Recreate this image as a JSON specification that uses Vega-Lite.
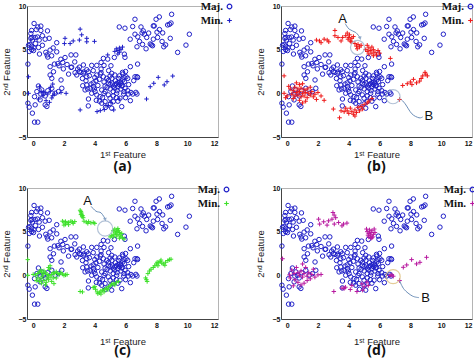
{
"$schema":"https://vega.github.io/schema/vega-lite/v6.json",
"padding":{"left":0,"top":0,"right":0,"bottom":0},
"background":"white",
"config":{
 "view":{"stroke":"#b4b4b4"},
 "axis":{"labelFont":"Liberation Sans","labelFontSize":7,"labelFontWeight":"bold","labelColor":"#111","titleFont":"Liberation Sans","titleFontSize":9.5,"titleFontWeight":"normal","titleColor":"#222","domainColor":"#444","ticks":false,"grid":false,"labelPadding":2},
 "axisY":{"titlePadding":7,"labelPadding":1},
 "axisX":{"titlePadding":3},
 "title":{"font":"Open Sans","fontSize":14,"fontWeight":"bold","color":"#111"},
 "legend":{"labelFont":"Liberation Serif","labelFontSize":11,"labelFontWeight":"bold","labelColor":"#111","labelAlign":"right","labelOffset":-12,"symbolSize":22,"symbolStrokeWidth":1.2,"rowPadding":2,"padding":0}
},
"resolve":{"scale":{"color":"independent","shape":"independent"},"legend":{"color":"independent","shape":"independent"}},
"datasets":{"pts":[
{"x":0.06,"y":8.0,"c":"Maj."},{"x":0.3,"y":7.6,"c":"Maj."},{"x":0.5,"y":7.7,"c":"Maj."},{"x":-0.1,"y":7.2,"c":"Maj."},{"x":-0.15,"y":6.85,"c":"Maj."},{"x":0.93,"y":7.15,"c":"Maj."},{"x":0.5,"y":7.2,"c":"Maj."},{"x":0.13,"y":6.4,"c":"Maj."},{"x":0.28,"y":6.45,"c":"Maj."},{"x":-0.08,"y":6.4,"c":"Maj."},{"x":-0.15,"y":6.3,"c":"Maj."},{"x":0.39,"y":6.1,"c":"Maj."},{"x":0.78,"y":6.2,"c":"Maj."},{"x":1.04,"y":6.3,"c":"Maj."},{"x":1.53,"y":5.8,"c":"Maj."},{"x":-0.2,"y":5.6,"c":"Maj."},{"x":-0.3,"y":5.5,"c":"Maj."},{"x":-0.1,"y":5.4,"c":"Maj."},{"x":0.05,"y":5.2,"c":"Maj."},{"x":-0.1,"y":5.0,"c":"Maj."},{"x":-0.25,"y":4.8,"c":"Maj."},{"x":0.35,"y":5.25,"c":"Maj."},{"x":0.02,"y":4.9,"c":"Maj."},{"x":1.1,"y":4.95,"c":"Maj."},{"x":0.82,"y":4.7,"c":"Maj."},{"x":0.9,"y":4.4,"c":"Maj."},{"x":1.2,"y":4.3,"c":"Maj."},{"x":0.95,"y":4.15,"c":"Maj."},{"x":0.41,"y":4.5,"c":"Maj."},{"x":1.53,"y":4.75,"c":"Maj."},{"x":2.07,"y":4.1,"c":"Maj."},{"x":2.46,"y":4.4,"c":"Maj."},{"x":2.77,"y":4.4,"c":"Maj."},{"x":-0.34,"y":3.35,"c":"Maj."},{"x":1.1,"y":3.05,"c":"Maj."},{"x":1.6,"y":3.4,"c":"Maj."},{"x":1.68,"y":3.15,"c":"Maj."},{"x":1.96,"y":2.8,"c":"Maj."},{"x":2.5,"y":3.0,"c":"Maj."},{"x":3.26,"y":3.25,"c":"Maj."},{"x":3.8,"y":3.2,"c":"Maj."},{"x":4.13,"y":3.2,"c":"Maj."},{"x":4.56,"y":4.0,"c":"Maj."},{"x":4.6,"y":3.2,"c":"Maj."},{"x":3.48,"y":2.7,"c":"Maj."},{"x":3.0,"y":2.5,"c":"Maj."},{"x":3.3,"y":2.45,"c":"Maj."},{"x":1.38,"y":3.35,"c":"Maj."},{"x":1.92,"y":3.54,"c":"Maj."},{"x":2.46,"y":2.97,"c":"Maj."},{"x":2.89,"y":2.78,"c":"Maj."},{"x":3.11,"y":2.4,"c":"Maj."},{"x":3.65,"y":2.02,"c":"Maj."},{"x":4.08,"y":1.44,"c":"Maj."},{"x":3.43,"y":1.44,"c":"Maj."},{"x":4.36,"y":2.21,"c":"Maj."},{"x":3.76,"y":1.06,"c":"Maj."},{"x":3.54,"y":0.49,"c":"Maj."},{"x":3.97,"y":0.49,"c":"Maj."},{"x":3.59,"y":-0.65,"c":"Maj."},{"x":3.22,"y":0.87,"c":"Maj."},{"x":4.41,"y":3.54,"c":"Maj."},{"x":4.84,"y":3.92,"c":"Maj."},{"x":5.27,"y":4.11,"c":"Maj."},{"x":5.05,"y":3.16,"c":"Maj."},{"x":4.41,"y":2.78,"c":"Maj."},
{"x":1.32,"y":2.47,"c":"Maj."},{"x":1.1,"y":2.1,"c":"Maj."},{"x":1.21,"y":1.72,"c":"Maj."},{"x":1.81,"y":1.53,"c":"Maj."},{"x":2.72,"y":2.36,"c":"Maj."},{"x":2.83,"y":2.1,"c":"Maj."},{"x":3.26,"y":2.29,"c":"Maj."},{"x":3.58,"y":2.47,"c":"Maj."},{"x":3.48,"y":1.9,"c":"Maj."},{"x":4.13,"y":2.1,"c":"Maj."},{"x":4.41,"y":2.36,"c":"Maj."},{"x":4.56,"y":1.9,"c":"Maj."},{"x":4.78,"y":1.72,"c":"Maj."},{"x":4.99,"y":1.98,"c":"Maj."},{"x":5.1,"y":2.29,"c":"Maj."},{"x":5.31,"y":0.96,"c":"Maj."},{"x":5.64,"y":1.33,"c":"Maj."},{"x":5.49,"y":0.76,"c":"Maj."},{"x":5.75,"y":0.84,"c":"Maj."},{"x":5.14,"y":1.07,"c":"Maj."},{"x":4.88,"y":1.15,"c":"Maj."},{"x":4.67,"y":0.84,"c":"Maj."},{"x":3.48,"y":0.96,"c":"Maj."},{"x":3.7,"y":0.58,"c":"Maj."},{"x":3.91,"y":0.76,"c":"Maj."},{"x":3.37,"y":0.39,"c":"Maj."},{"x":4.02,"y":0.2,"c":"Maj."},{"x":3.8,"y":0.01,"c":"Maj."},{"x":4.13,"y":-0.18,"c":"Maj."},{"x":4.34,"y":-0.38,"c":"Maj."},{"x":4.45,"y":0.39,"c":"Maj."},{"x":4.67,"y":0.2,"c":"Maj."},{"x":4.88,"y":-0.18,"c":"Maj."},{"x":4.99,"y":-0.56,"c":"Maj."},{"x":5.2,"y":-0.95,"c":"Maj."},{"x":4.67,"y":-0.95,"c":"Maj."},{"x":4.45,"y":-1.13,"c":"Maj."},{"x":5.42,"y":0.01,"c":"Maj."},{"x":5.64,"y":-0.56,"c":"Maj."},{"x":5.1,"y":-1.7,"c":"Maj."},{"x":5.75,"y":-1.52,"c":"Maj."},{"x":3.58,"y":-1.44,"c":"Maj."},
{"x":0.34,"y":0.84,"c":"Maj."},{"x":0.56,"y":0.39,"c":"Maj."},{"x":0.67,"y":0.01,"c":"Maj."},{"x":0.78,"y":-0.3,"c":"Maj."},{"x":0.24,"y":0.2,"c":"Maj."},{"x":0.09,"y":-0.38,"c":"Maj."},{"x":0.45,"y":-0.75,"c":"Maj."},{"x":0.78,"y":-1.32,"c":"Maj."},{"x":0.89,"y":-1.5,"c":"Maj."},{"x":0.13,"y":-1.32,"c":"Maj."},{"x":1.21,"y":0.58,"c":"Maj."},{"x":1.43,"y":0.01,"c":"Maj."},{"x":1.64,"y":0.2,"c":"Maj."},{"x":1.86,"y":0.58,"c":"Maj."},{"x":-0.34,"y":-1.13,"c":"Maj."},{"x":-0.26,"y":-1.58,"c":"Maj."},{"x":-0.05,"y":-2.27,"c":"Maj."},{"x":0.09,"y":-3.3,"c":"Maj."},{"x":0.3,"y":-3.3,"c":"Maj."},
{"x":5.82,"y":2.21,"c":"Maj."},{"x":6.03,"y":1.9,"c":"Maj."},{"x":6.14,"y":1.72,"c":"Maj."},{"x":5.92,"y":1.33,"c":"Maj."},{"x":5.82,"y":1.53,"c":"Maj."},{"x":5.71,"y":1.15,"c":"Maj."},{"x":5.97,"y":0.58,"c":"Maj."},{"x":6.14,"y":0.3,"c":"Maj."},{"x":6.46,"y":-0.08,"c":"Maj."},{"x":6.74,"y":-0.08,"c":"Maj."},{"x":6.18,"y":-0.08,"c":"Maj."},{"x":5.88,"y":-0.08,"c":"Maj."},{"x":6.31,"y":-0.84,"c":"Maj."},{"x":6.61,"y":1.9,"c":"Maj."},{"x":6.74,"y":1.9,"c":"Maj."},{"x":6.53,"y":1.45,"c":"Maj."},{"x":6.35,"y":0.1,"c":"Maj."},{"x":6.67,"y":0.11,"c":"Maj."},{"x":6.78,"y":1.82,"c":"Maj."},{"x":6.78,"y":3.35,"c":"Maj."},{"x":5.92,"y":4.49,"c":"Maj."},{"x":5.96,"y":4.12,"c":"Maj."},{"x":6.31,"y":3.05,"c":"Maj."},{"x":6.0,"y":2.5,"c":"Maj."},{"x":5.8,"y":2.4,"c":"Maj."},
{"x":6.61,"y":8.48,"c":"Maj."},{"x":7.98,"y":8.48,"c":"Maj."},{"x":8.19,"y":8.75,"c":"Maj."},{"x":8.99,"y":9.05,"c":"Maj."},{"x":6.46,"y":7.65,"c":"Maj."},{"x":5.96,"y":7.46,"c":"Maj."},{"x":5.59,"y":7.6,"c":"Maj."},{"x":7.8,"y":7.72,"c":"Maj."},{"x":8.85,"y":7.9,"c":"Maj."},{"x":8.95,"y":8.05,"c":"Maj."},{"x":7.15,"y":7.15,"c":"Maj."},{"x":7.07,"y":6.92,"c":"Maj."},{"x":7.22,"y":6.77,"c":"Maj."},{"x":7.37,"y":6.4,"c":"Maj."},{"x":6.61,"y":6.77,"c":"Maj."},{"x":6.79,"y":6.47,"c":"Maj."},{"x":7.8,"y":6.2,"c":"Maj."},{"x":8.04,"y":7.0,"c":"Maj."},{"x":8.41,"y":6.92,"c":"Maj."},{"x":8.08,"y":6.4,"c":"Maj."},{"x":10.14,"y":6.77,"c":"Maj."},{"x":6.9,"y":5.94,"c":"Maj."},{"x":6.74,"y":5.33,"c":"Maj."},{"x":7.33,"y":5.1,"c":"Maj."},{"x":7.68,"y":5.55,"c":"Maj."},{"x":7.6,"y":5.65,"c":"Maj."},{"x":7.75,"y":5.45,"c":"Maj."},{"x":8.37,"y":5.94,"c":"Maj."},{"x":8.48,"y":5.33,"c":"Maj."},{"x":8.6,"y":5.55,"c":"Maj."},{"x":9.92,"y":5.52,"c":"Maj."},{"x":9.38,"y":4.69,"c":"Maj."},{"x":7.86,"y":7.72,"c":"Maj."},{"x":8.73,"y":7.83,"c":"Maj."},
{"x":5.0,"y":1.0,"c":"Maj."},{"x":5.2,"y":0.8,"c":"Maj."},{"x":5.4,"y":1.1,"c":"Maj."},{"x":5.5,"y":1.2,"c":"Maj."},{"x":5.6,"y":1.0,"c":"Maj."},{"x":5.3,"y":0.6,"c":"Maj."},{"x":5.0,"y":0.5,"c":"Maj."},{"x":4.8,"y":0.7,"c":"Maj."},{"x":5.7,"y":0.5,"c":"Maj."},{"x":5.45,"y":0.3,"c":"Maj."},{"x":5.2,"y":0.2,"c":"Maj."},{"x":5.8,"y":0.9,"c":"Maj."},{"x":4.6,"y":1.3,"c":"Maj."},{"x":5.35,"y":1.45,"c":"Maj."},{"x":5.55,"y":1.7,"c":"Maj."},{"x":4.9,"y":1.5,"c":"Maj."},{"x":5.1,"y":1.7,"c":"Maj."},{"x":5.9,"y":1.8,"c":"Maj."},{"x":5.6,"y":2.0,"c":"Maj."},{"x":5.2,"y":-0.3,"c":"Maj."},{"x":4.5,"y":-0.5,"c":"Maj."},{"x":4.2,"y":0.9,"c":"Maj."},{"x":4.3,"y":1.6,"c":"Maj."},{"x":3.9,"y":1.2,"c":"Maj."},{"x":6.0,"y":-0.5,"c":"Maj."},{"x":5.5,"y":-0.9,"c":"Maj."},{"x":4.7,"y":-1.6,"c":"Maj."},{"x":4.1,"y":-0.8,"c":"Maj."},
{"x":0.2,"y":7.3,"c":"Maj."},{"x":0.6,"y":6.6,"c":"Maj."},{"x":-0.05,"y":6.1,"c":"Maj."},{"x":0.15,"y":5.7,"c":"Maj."},{"x":0.6,"y":5.5,"c":"Maj."},{"x":1.3,"y":5.2,"c":"Maj."},{"x":1.8,"y":3.9,"c":"Maj."},{"x":2.2,"y":3.3,"c":"Maj."},{"x":2.7,"y":3.6,"c":"Maj."},{"x":3.0,"y":3.0,"c":"Maj."},{"x":3.9,"y":2.6,"c":"Maj."},{"x":4.9,"y":2.6,"c":"Maj."},{"x":5.3,"y":2.1,"c":"Maj."},{"x":4.6,"y":0.0,"c":"Maj."},{"x":4.3,"y":-0.9,"c":"Maj."},{"x":5.0,"y":-1.2,"c":"Maj."},{"x":5.9,"y":0.2,"c":"Maj."},{"x":6.2,"y":1.0,"c":"Maj."},{"x":5.4,"y":-0.5,"c":"Maj."},{"x":4.0,"y":1.8,"c":"Maj."},{"x":3.2,"y":1.7,"c":"Maj."},{"x":2.3,"y":2.2,"c":"Maj."},{"x":0.5,"y":-0.1,"c":"Maj."},{"x":0.95,"y":0.3,"c":"Maj."},{"x":7.0,"y":7.6,"c":"Maj."},{"x":7.5,"y":6.9,"c":"Maj."},{"x":8.2,"y":7.3,"c":"Maj."},{"x":6.3,"y":6.2,"c":"Maj."},{"x":7.1,"y":5.6,"c":"Maj."},{"x":8.9,"y":6.3,"c":"Maj."},

{"x":3.05,"y":7.35,"c":"Min.","p":"a"},{"x":3.15,"y":6.7,"c":"Min.","p":"a"},{"x":3.48,"y":6.3,"c":"Min.","p":"a"},{"x":2.07,"y":6.3,"c":"Min.","p":"a"},{"x":2.03,"y":5.7,"c":"Min.","p":"a"},{"x":2.4,"y":5.7,"c":"Min.","p":"a"},{"x":2.6,"y":6.0,"c":"Min.","p":"a"},{"x":3.0,"y":6.1,"c":"Min.","p":"a"},{"x":3.48,"y":5.9,"c":"Min.","p":"a"},{"x":3.98,"y":5.95,"c":"Min.","p":"a"},{"x":4.84,"y":4.4,"c":"Min.","p":"a"},{"x":5.4,"y":5.1,"c":"Min.","p":"a"},{"x":5.5,"y":4.9,"c":"Min.","p":"a"},{"x":5.6,"y":4.7,"c":"Min.","p":"a"},{"x":5.7,"y":5.0,"c":"Min.","p":"a"},{"x":5.5,"y":4.5,"c":"Min.","p":"a"},{"x":5.8,"y":5.3,"c":"Min.","p":"a"},{"x":5.6,"y":5.2,"c":"Min.","p":"a"},{"x":5.3,"y":4.8,"c":"Min.","p":"a"},{"x":0.41,"y":0.76,"c":"Min.","p":"a"},{"x":0.52,"y":0.23,"c":"Min.","p":"a"},{"x":0.69,"y":0.11,"c":"Min.","p":"a"},{"x":0.95,"y":-0.08,"c":"Min.","p":"a"},{"x":1.12,"y":0.23,"c":"Min.","p":"a"},{"x":1.27,"y":-0.27,"c":"Min.","p":"a"},{"x":1.38,"y":-0.08,"c":"Min.","p":"a"},{"x":0.63,"y":-0.27,"c":"Min.","p":"a"},{"x":0.35,"y":-0.65,"c":"Min.","p":"a"},{"x":0.84,"y":-0.84,"c":"Min.","p":"a"},{"x":1.06,"y":-1.03,"c":"Min.","p":"a"},{"x":1.21,"y":-0.53,"c":"Min.","p":"a"},{"x":1.81,"y":0.11,"c":"Min.","p":"a"},{"x":2.14,"y":0.0,"c":"Min.","p":"a"},{"x":1.27,"y":1.06,"c":"Min.","p":"a"},{"x":1.12,"y":0.68,"c":"Min.","p":"a"},{"x":3.05,"y":-1.9,"c":"Min.","p":"a"},{"x":4.15,"y":-2.09,"c":"Min.","p":"a"},{"x":4.36,"y":-1.98,"c":"Min.","p":"a"},{"x":4.62,"y":-1.86,"c":"Min.","p":"a"},{"x":4.88,"y":-1.41,"c":"Min.","p":"a"},{"x":5.05,"y":-1.03,"c":"Min.","p":"a"},{"x":5.23,"y":-1.9,"c":"Min.","p":"a"},{"x":4.73,"y":-1.41,"c":"Min.","p":"a"},{"x":5.59,"y":-0.65,"c":"Min.","p":"a"},{"x":7.36,"y":-0.65,"c":"Min.","p":"a"},{"x":7.6,"y":0.76,"c":"Min.","p":"a"},{"x":7.83,"y":1.15,"c":"Min.","p":"a"},{"x":8.12,"y":1.83,"c":"Min.","p":"a"},{"x":8.51,"y":0.96,"c":"Min.","p":"a"},{"x":8.69,"y":1.33,"c":"Min.","p":"a"},{"x":9.06,"y":1.98,"c":"Min.","p":"a"},{"x":-0.3,"y":0.0,"c":"Min.","p":"a"},{"x":-0.3,"y":1.9,"c":"Min.","p":"a"},

{"x":1.9,"y":6.1,"c":"Min.","p":"b"},{"x":2.1,"y":6.0,"c":"Min.","p":"b"},{"x":2.4,"y":6.2,"c":"Min.","p":"b"},{"x":2.6,"y":6.1,"c":"Min.","p":"b"},{"x":2.7,"y":5.9,"c":"Min.","p":"b"},{"x":2.2,"y":5.8,"c":"Min.","p":"b"},{"x":3.1,"y":7.2,"c":"Min.","p":"b"},{"x":3.1,"y":6.6,"c":"Min.","p":"b"},{"x":3.3,"y":6.4,"c":"Min.","p":"b"},{"x":3.6,"y":6.4,"c":"Min.","p":"b"},{"x":3.8,"y":6.6,"c":"Min.","p":"b"},{"x":3.5,"y":6.0,"c":"Min.","p":"b"},{"x":4.0,"y":6.4,"c":"Min.","p":"b"},{"x":3.9,"y":6.9,"c":"Min.","p":"b"},{"x":3.95,"y":6.2,"c":"Min.","p":"b"},{"x":4.1,"y":6.0,"c":"Min.","p":"b"},{"x":4.2,"y":6.3,"c":"Min.","p":"b"},{"x":4.3,"y":6.5,"c":"Min.","p":"b"},{"x":4.05,"y":6.7,"c":"Min.","p":"b"},{"x":4.15,"y":5.9,"c":"Min.","p":"b"},{"x":4.4,"y":5.7,"c":"Min.","p":"b"},{"x":4.5,"y":5.4,"c":"Min.","p":"b"},{"x":4.6,"y":5.6,"c":"Min.","p":"b"},{"x":4.7,"y":5.3,"c":"Min.","p":"b"},{"x":4.55,"y":5.1,"c":"Min.","p":"b"},{"x":4.8,"y":5.5,"c":"Min.","p":"b"},
{"x":5.1,"y":5.0,"c":"Min.","p":"b"},{"x":5.2,"y":4.8,"c":"Min.","p":"b"},{"x":5.3,"y":5.2,"c":"Min.","p":"b"},{"x":5.4,"y":4.9,"c":"Min.","p":"b"},{"x":5.5,"y":4.6,"c":"Min.","p":"b"},{"x":5.6,"y":5.0,"c":"Min.","p":"b"},{"x":5.7,"y":4.7,"c":"Min.","p":"b"},{"x":5.5,"y":5.3,"c":"Min.","p":"b"},{"x":5.3,"y":4.5,"c":"Min.","p":"b"},{"x":5.8,"y":4.4,"c":"Min.","p":"b"},{"x":5.9,"y":4.9,"c":"Min.","p":"b"},{"x":5.2,"y":5.5,"c":"Min.","p":"b"},{"x":5.6,"y":4.3,"c":"Min.","p":"b"},{"x":6.0,"y":4.6,"c":"Min.","p":"b"},{"x":6.7,"y":4.0,"c":"Min.","p":"b"},
{"x":0.6,"y":1.2,"c":"Min.","p":"b"},{"x":0.8,"y":1.0,"c":"Min.","p":"b"},{"x":1.0,"y":1.1,"c":"Min.","p":"b"},{"x":0.5,"y":0.7,"c":"Min.","p":"b"},{"x":0.7,"y":0.5,"c":"Min.","p":"b"},{"x":0.9,"y":0.6,"c":"Min.","p":"b"},{"x":1.1,"y":0.4,"c":"Min.","p":"b"},{"x":1.3,"y":0.5,"c":"Min.","p":"b"},{"x":0.4,"y":0.3,"c":"Min.","p":"b"},{"x":0.6,"y":0.1,"c":"Min.","p":"b"},{"x":0.8,"y":0.2,"c":"Min.","p":"b"},{"x":1.0,"y":0.0,"c":"Min.","p":"b"},{"x":1.2,"y":0.1,"c":"Min.","p":"b"},{"x":1.4,"y":0.0,"c":"Min.","p":"b"},{"x":1.6,"y":0.2,"c":"Min.","p":"b"},{"x":0.3,"y":-0.1,"c":"Min.","p":"b"},{"x":0.5,"y":-0.3,"c":"Min.","p":"b"},{"x":0.7,"y":-0.2,"c":"Min.","p":"b"},{"x":0.9,"y":-0.4,"c":"Min.","p":"b"},{"x":1.1,"y":-0.3,"c":"Min.","p":"b"},{"x":1.3,"y":-0.5,"c":"Min.","p":"b"},{"x":1.5,"y":-0.2,"c":"Min.","p":"b"},{"x":1.7,"y":-0.4,"c":"Min.","p":"b"},{"x":0.4,"y":-0.6,"c":"Min.","p":"b"},{"x":0.8,"y":-0.8,"c":"Min.","p":"b"},{"x":1.2,"y":-0.9,"c":"Min.","p":"b"},{"x":1.8,"y":-0.1,"c":"Min.","p":"b"},{"x":2.0,"y":0.1,"c":"Min.","p":"b"},{"x":2.2,"y":-0.3,"c":"Min.","p":"b"},{"x":1.9,"y":-0.7,"c":"Min.","p":"b"},{"x":0.2,"y":0.5,"c":"Min.","p":"b"},{"x":1.0,"y":-1.1,"c":"Min.","p":"b"},{"x":2.4,"y":-0.8,"c":"Min.","p":"b"},{"x":0.0,"y":-0.3,"c":"Min.","p":"b"},{"x":1.5,"y":0.7,"c":"Min.","p":"b"},{"x":0.1,"y":0.8,"c":"Min.","p":"b"},{"x":-0.2,"y":2.0,"c":"Min.","p":"b"},{"x":-0.2,"y":0.0,"c":"Min.","p":"b"},{"x":-0.1,"y":-0.5,"c":"Min.","p":"b"},
{"x":3.0,"y":-1.8,"c":"Min.","p":"b"},{"x":3.4,"y":-2.8,"c":"Min.","p":"b"},{"x":3.5,"y":-2.0,"c":"Min.","p":"b"},{"x":3.7,"y":-2.1,"c":"Min.","p":"b"},{"x":3.9,"y":-2.0,"c":"Min.","p":"b"},{"x":4.0,"y":-2.3,"c":"Min.","p":"b"},{"x":4.1,"y":-1.7,"c":"Min.","p":"b"},{"x":4.2,"y":-2.1,"c":"Min.","p":"b"},{"x":4.3,"y":-2.4,"c":"Min.","p":"b"},{"x":4.4,"y":-1.9,"c":"Min.","p":"b"},{"x":4.5,"y":-2.2,"c":"Min.","p":"b"},{"x":4.6,"y":-1.6,"c":"Min.","p":"b"},{"x":4.7,"y":-2.0,"c":"Min.","p":"b"},{"x":4.8,"y":-1.5,"c":"Min.","p":"b"},{"x":4.9,"y":-1.8,"c":"Min.","p":"b"},{"x":5.0,"y":-1.3,"c":"Min.","p":"b"},{"x":5.2,"y":-1.1,"c":"Min.","p":"b"},{"x":5.3,"y":-0.9,"c":"Min.","p":"b"},{"x":4.4,"y":-2.6,"c":"Min.","p":"b"},{"x":3.8,"y":-1.7,"c":"Min.","p":"b"},{"x":5.5,"y":-0.6,"c":"Min.","p":"b"},
{"x":7.3,"y":-0.7,"c":"Min.","p":"b"},{"x":7.5,"y":0.9,"c":"Min.","p":"b"},{"x":7.8,"y":1.1,"c":"Min.","p":"b"},{"x":8.0,"y":1.3,"c":"Min.","p":"b"},{"x":8.2,"y":1.6,"c":"Min.","p":"b"},{"x":8.1,"y":1.0,"c":"Min.","p":"b"},{"x":8.4,"y":1.2,"c":"Min.","p":"b"},{"x":8.6,"y":1.4,"c":"Min.","p":"b"},{"x":8.7,"y":1.7,"c":"Min.","p":"b"},{"x":8.8,"y":2.0,"c":"Min.","p":"b"},{"x":9.0,"y":2.2,"c":"Min.","p":"b"},{"x":9.1,"y":2.0,"c":"Min.","p":"b"},{"x":8.95,"y":2.4,"c":"Min.","p":"b"},

{"x":1.9,"y":6.2,"c":"Min.","p":"c"},{"x":2.0,"y":6.1,"c":"Min.","p":"c"},{"x":2.1,"y":6.15,"c":"Min.","p":"c"},{"x":2.2,"y":6.0,"c":"Min.","p":"c"},{"x":2.3,"y":6.05,"c":"Min.","p":"c"},{"x":2.45,"y":6.2,"c":"Min.","p":"c"},{"x":2.55,"y":6.1,"c":"Min.","p":"c"},{"x":2.7,"y":6.15,"c":"Min.","p":"c"},{"x":2.6,"y":5.95,"c":"Min.","p":"c"},{"x":2.1,"y":5.85,"c":"Min.","p":"c"},{"x":2.0,"y":5.75,"c":"Min.","p":"c"},{"x":2.3,"y":5.8,"c":"Min.","p":"c"},
{"x":3.05,"y":7.45,"c":"Min.","p":"c"},{"x":3.1,"y":7.3,"c":"Min.","p":"c"},{"x":3.12,"y":7.15,"c":"Min.","p":"c"},{"x":3.15,"y":7.0,"c":"Min.","p":"c"},{"x":3.2,"y":6.85,"c":"Min.","p":"c"},{"x":3.18,"y":6.7,"c":"Min.","p":"c"},{"x":3.25,"y":6.6,"c":"Min.","p":"c"},{"x":3.1,"y":6.95,"c":"Min.","p":"c"},
{"x":3.3,"y":6.2,"c":"Min.","p":"c"},{"x":3.45,"y":6.1,"c":"Min.","p":"c"},{"x":3.6,"y":6.15,"c":"Min.","p":"c"},{"x":3.75,"y":6.0,"c":"Min.","p":"c"},{"x":3.9,"y":6.05,"c":"Min.","p":"c"},{"x":4.0,"y":5.95,"c":"Min.","p":"c"},{"x":3.55,"y":5.95,"c":"Min.","p":"c"},
{"x":5.0,"y":4.4,"c":"Min.","p":"c"},{"x":5.1,"y":4.55,"c":"Min.","p":"c"},{"x":5.2,"y":4.4,"c":"Min.","p":"c"},{"x":5.25,"y":4.7,"c":"Min.","p":"c"},{"x":5.35,"y":4.85,"c":"Min.","p":"c"},{"x":5.4,"y":5.0,"c":"Min.","p":"c"},{"x":5.45,"y":5.2,"c":"Min.","p":"c"},{"x":5.5,"y":5.35,"c":"Min.","p":"c"},{"x":5.55,"y":5.1,"c":"Min.","p":"c"},{"x":5.6,"y":4.9,"c":"Min.","p":"c"},{"x":5.5,"y":4.7,"c":"Min.","p":"c"},{"x":5.65,"y":4.6,"c":"Min.","p":"c"},{"x":5.7,"y":4.4,"c":"Min.","p":"c"},{"x":5.8,"y":4.3,"c":"Min.","p":"c"},{"x":5.6,"y":4.25,"c":"Min.","p":"c"},{"x":5.75,"y":4.8,"c":"Min.","p":"c"},{"x":5.4,"y":4.5,"c":"Min.","p":"c"},{"x":5.3,"y":5.3,"c":"Min.","p":"c"},{"x":5.9,"y":4.15,"c":"Min.","p":"c"},{"x":5.2,"y":5.1,"c":"Min.","p":"c"},
{"x":0.0,"y":0.1,"c":"Min.","p":"c"},{"x":0.15,"y":0.05,"c":"Min.","p":"c"},{"x":0.3,"y":0.2,"c":"Min.","p":"c"},{"x":0.4,"y":0.4,"c":"Min.","p":"c"},{"x":0.5,"y":0.6,"c":"Min.","p":"c"},{"x":0.55,"y":0.35,"c":"Min.","p":"c"},{"x":0.65,"y":0.15,"c":"Min.","p":"c"},{"x":0.7,"y":0.5,"c":"Min.","p":"c"},{"x":0.8,"y":0.3,"c":"Min.","p":"c"},{"x":0.9,"y":0.1,"c":"Min.","p":"c"},{"x":1.0,"y":0.0,"c":"Min.","p":"c"},{"x":1.1,"y":-0.2,"c":"Min.","p":"c"},{"x":1.2,"y":0.1,"c":"Min.","p":"c"},{"x":1.3,"y":0.3,"c":"Min.","p":"c"},{"x":1.4,"y":0.25,"c":"Min.","p":"c"},{"x":1.5,"y":0.4,"c":"Min.","p":"c"},{"x":1.6,"y":0.2,"c":"Min.","p":"c"},{"x":1.7,"y":0.1,"c":"Min.","p":"c"},{"x":1.8,"y":0.3,"c":"Min.","p":"c"},{"x":1.9,"y":0.15,"c":"Min.","p":"c"},{"x":2.0,"y":0.0,"c":"Min.","p":"c"},{"x":2.1,"y":0.05,"c":"Min.","p":"c"},{"x":2.2,"y":0.1,"c":"Min.","p":"c"},{"x":1.0,"y":0.9,"c":"Min.","p":"c"},{"x":1.1,"y":1.1,"c":"Min.","p":"c"},{"x":1.05,"y":0.7,"c":"Min.","p":"c"},{"x":0.6,"y":-0.1,"c":"Min.","p":"c"},{"x":0.5,"y":-0.4,"c":"Min.","p":"c"},{"x":0.4,"y":-0.7,"c":"Min.","p":"c"},{"x":0.55,"y":-0.9,"c":"Min.","p":"c"},{"x":0.7,"y":-0.6,"c":"Min.","p":"c"},{"x":0.85,"y":-0.8,"c":"Min.","p":"c"},{"x":1.0,"y":-0.5,"c":"Min.","p":"c"},{"x":1.2,"y":-0.7,"c":"Min.","p":"c"},{"x":1.35,"y":-0.95,"c":"Min.","p":"c"},{"x":0.3,"y":-0.3,"c":"Min.","p":"c"},{"x":0.2,"y":-0.6,"c":"Min.","p":"c"},{"x":0.8,"y":-1.1,"c":"Min.","p":"c"},{"x":1.5,"y":-0.3,"c":"Min.","p":"c"},{"x":1.3,"y":-0.3,"c":"Min.","p":"c"},{"x":0.9,"y":-0.3,"c":"Min.","p":"c"},{"x":-0.35,"y":1.8,"c":"Min.","p":"c"},{"x":-0.35,"y":0.0,"c":"Min.","p":"c"},
{"x":3.05,"y":-1.85,"c":"Min.","p":"c"},{"x":3.2,"y":-1.9,"c":"Min.","p":"c"},{"x":3.9,"y":-1.4,"c":"Min.","p":"c"},{"x":4.0,"y":-1.3,"c":"Min.","p":"c"},{"x":4.05,"y":-1.6,"c":"Min.","p":"c"},{"x":4.15,"y":-1.9,"c":"Min.","p":"c"},{"x":4.2,"y":-2.1,"c":"Min.","p":"c"},{"x":4.3,"y":-2.0,"c":"Min.","p":"c"},{"x":4.4,"y":-1.8,"c":"Min.","p":"c"},{"x":4.5,"y":-1.7,"c":"Min.","p":"c"},{"x":4.6,"y":-1.9,"c":"Min.","p":"c"},{"x":4.65,"y":-1.6,"c":"Min.","p":"c"},{"x":4.75,"y":-1.5,"c":"Min.","p":"c"},{"x":4.85,"y":-1.65,"c":"Min.","p":"c"},{"x":4.9,"y":-1.3,"c":"Min.","p":"c"},{"x":5.0,"y":-1.2,"c":"Min.","p":"c"},{"x":5.1,"y":-1.0,"c":"Min.","p":"c"},{"x":5.2,"y":-0.95,"c":"Min.","p":"c"},{"x":5.3,"y":-1.1,"c":"Min.","p":"c"},{"x":5.4,"y":-0.8,"c":"Min.","p":"c"},{"x":4.4,"y":-2.15,"c":"Min.","p":"c"},{"x":5.55,"y":-0.7,"c":"Min.","p":"c"},
{"x":7.3,"y":-0.3,"c":"Min.","p":"c"},{"x":7.35,"y":-0.5,"c":"Min.","p":"c"},{"x":7.4,"y":-0.7,"c":"Min.","p":"c"},{"x":7.45,"y":0.2,"c":"Min.","p":"c"},{"x":7.55,"y":0.5,"c":"Min.","p":"c"},{"x":7.65,"y":0.7,"c":"Min.","p":"c"},{"x":7.8,"y":0.9,"c":"Min.","p":"c"},{"x":7.9,"y":1.1,"c":"Min.","p":"c"},{"x":8.0,"y":1.3,"c":"Min.","p":"c"},{"x":8.05,"y":1.5,"c":"Min.","p":"c"},{"x":8.15,"y":1.45,"c":"Min.","p":"c"},{"x":8.25,"y":1.6,"c":"Min.","p":"c"},{"x":8.35,"y":1.4,"c":"Min.","p":"c"},{"x":8.45,"y":1.3,"c":"Min.","p":"c"},{"x":8.55,"y":1.15,"c":"Min.","p":"c"},{"x":8.6,"y":1.5,"c":"Min.","p":"c"},{"x":8.75,"y":1.7,"c":"Min.","p":"c"},{"x":8.85,"y":1.8,"c":"Min.","p":"c"},{"x":8.95,"y":1.85,"c":"Min.","p":"c"},{"x":8.3,"y":1.75,"c":"Min.","p":"c"},{"x":8.1,"y":1.1,"c":"Min.","p":"c"},

{"x":2.04,"y":6.43,"c":"Min.","p":"d"},{"x":2.11,"y":5.87,"c":"Min.","p":"d"},{"x":2.37,"y":6.13,"c":"Min.","p":"d"},{"x":2.59,"y":5.75,"c":"Min.","p":"d"},{"x":2.69,"y":6.24,"c":"Min.","p":"d"},{"x":2.91,"y":6.43,"c":"Min.","p":"d"},{"x":2.97,"y":7.19,"c":"Min.","p":"d"},{"x":3.06,"y":5.87,"c":"Min.","p":"d"},{"x":3.34,"y":6.05,"c":"Min.","p":"d"},{"x":3.56,"y":5.67,"c":"Min.","p":"d"},{"x":3.66,"y":5.87,"c":"Min.","p":"d"},{"x":3.88,"y":5.98,"c":"Min.","p":"d"},{"x":3.05,"y":6.9,"c":"Min.","p":"d"},{"x":3.15,"y":6.6,"c":"Min.","p":"d"},
{"x":5.15,"y":5.3,"c":"Min.","p":"d"},{"x":5.2,"y":5.0,"c":"Min.","p":"d"},{"x":5.3,"y":4.8,"c":"Min.","p":"d"},{"x":5.35,"y":5.2,"c":"Min.","p":"d"},{"x":5.4,"y":4.6,"c":"Min.","p":"d"},{"x":5.45,"y":4.9,"c":"Min.","p":"d"},{"x":5.5,"y":5.1,"c":"Min.","p":"d"},{"x":5.55,"y":4.4,"c":"Min.","p":"d"},{"x":5.6,"y":4.7,"c":"Min.","p":"d"},{"x":5.65,"y":5.3,"c":"Min.","p":"d"},{"x":5.3,"y":4.4,"c":"Min.","p":"d"},{"x":5.45,"y":4.25,"c":"Min.","p":"d"},{"x":5.7,"y":4.9,"c":"Min.","p":"d"},{"x":5.25,"y":4.6,"c":"Min.","p":"d"},{"x":5.5,"y":4.3,"c":"Min.","p":"d"},
{"x":0.3,"y":0.6,"c":"Min.","p":"d"},{"x":0.45,"y":0.2,"c":"Min.","p":"d"},{"x":0.6,"y":0.9,"c":"Min.","p":"d"},{"x":0.7,"y":0.3,"c":"Min.","p":"d"},{"x":0.8,"y":0.0,"c":"Min.","p":"d"},{"x":0.9,"y":0.5,"c":"Min.","p":"d"},{"x":1.0,"y":-0.2,"c":"Min.","p":"d"},{"x":1.1,"y":0.2,"c":"Min.","p":"d"},{"x":1.2,"y":0.9,"c":"Min.","p":"d"},{"x":1.3,"y":-0.1,"c":"Min.","p":"d"},{"x":1.4,"y":0.3,"c":"Min.","p":"d"},{"x":1.5,"y":-0.4,"c":"Min.","p":"d"},{"x":1.6,"y":0.1,"c":"Min.","p":"d"},{"x":1.8,"y":-0.2,"c":"Min.","p":"d"},{"x":2.0,"y":0.05,"c":"Min.","p":"d"},{"x":2.2,"y":0.1,"c":"Min.","p":"d"},{"x":0.5,"y":-0.5,"c":"Min.","p":"d"},{"x":0.7,"y":-0.8,"c":"Min.","p":"d"},{"x":0.9,"y":-1.1,"c":"Min.","p":"d"},{"x":1.1,"y":-0.9,"c":"Min.","p":"d"},{"x":1.3,"y":-0.6,"c":"Min.","p":"d"},{"x":0.4,"y":-1.2,"c":"Min.","p":"d"},{"x":0.2,"y":-0.3,"c":"Min.","p":"d"},{"x":1.0,"y":1.3,"c":"Min.","p":"d"},{"x":0.15,"y":0.05,"c":"Min.","p":"d"},{"x":1.7,"y":0.7,"c":"Min.","p":"d"},{"x":-0.3,"y":1.9,"c":"Min.","p":"d"},
{"x":3.03,"y":-1.85,"c":"Min.","p":"d"},{"x":3.56,"y":-1.47,"c":"Min.","p":"d"},{"x":3.78,"y":-1.36,"c":"Min.","p":"d"},{"x":4.1,"y":-1.62,"c":"Min.","p":"d"},{"x":4.2,"y":-1.16,"c":"Min.","p":"d"},{"x":4.53,"y":-1.85,"c":"Min.","p":"d"},{"x":4.85,"y":-0.97,"c":"Min.","p":"d"},{"x":5.17,"y":-0.78,"c":"Min.","p":"d"},{"x":5.27,"y":-1.16,"c":"Min.","p":"d"},{"x":3.7,"y":-1.5,"c":"Min.","p":"d"},{"x":5.0,"y":-1.3,"c":"Min.","p":"d"},{"x":4.9,"y":-1.7,"c":"Min.","p":"d"},
{"x":6.68,"y":-0.02,"c":"Min.","p":"d"},{"x":6.89,"y":-0.1,"c":"Min.","p":"d"},{"x":6.8,"y":0.05,"c":"Min.","p":"d"},
{"x":7.54,"y":0.92,"c":"Min.","p":"d"},{"x":7.76,"y":1.19,"c":"Min.","p":"d"},{"x":8.08,"y":1.8,"c":"Min.","p":"d"},{"x":8.4,"y":1.31,"c":"Min.","p":"d"},{"x":8.62,"y":1.49,"c":"Min.","p":"d"},{"x":9.05,"y":2.06,"c":"Min.","p":"d"},{"x":7.3,"y":-0.6,"c":"Min.","p":"d"}
]},
"columns":2,
"spacing":{"row":51,"column":63},
"bounds":"flush",
"concat":[
{
 "width":191,"height":131,
 "title":{"text":"(a)","orient":"bottom","offset":1},
 "encoding":{
  "x":{"field":"x","type":"quantitative","scale":{"domain":[-0.4,12],"nice":false,"zero":false},"axis":{"values":[0,2,4,6,8,10,12],"title":"1ˢᵗ Feature"}},
  "y":{"field":"y","type":"quantitative","scale":{"domain":[-5,10],"nice":false,"zero":false},"axis":{"values":[-5,0,5,10],"title":"2ⁿᵈ Feature"}}
 },
 "layer":[
  {"data":{"name":"pts"},"transform":[{"filter":"datum.c == 'Maj.' || datum.p == 'a'"}],
   "mark":{"type":"point","filled":false,"strokeWidth":1,"size":20,"opacity":1,"clip":false},
   "encoding":{
    "color":{"field":"c","type":"nominal","scale":{"domain":["Maj.","Min."],"range":["#2020c8","#2020c8"]},"legend":{"title":null,"orient":"none","legendX":197,"legendY":-5}},
    "shape":{"field":"c","type":"nominal","scale":{"domain":["Maj.","Min."],"range":["circle","M-1,0L1,0M0,-1L0,1"]},"legend":{"title":null,"orient":"none","legendX":197,"legendY":-5}}
   }}
 ]
},
{
 "width":191,"height":131,
 "title":{"text":"(b)","orient":"bottom","offset":1},
 "encoding":{
  "x":{"field":"x","type":"quantitative","scale":{"domain":[-0.4,12],"nice":false,"zero":false},"axis":{"values":[0,2,4,6,8,10,12],"title":"1ˢᵗ Feature"}},
  "y":{"field":"y","type":"quantitative","scale":{"domain":[-5,10],"nice":false,"zero":false},"axis":{"values":[-5,0,5,10],"title":"2ⁿᵈ Feature"}}
 },
 "layer":[
  {"data":{"name":"pts"},"transform":[{"filter":"datum.c == 'Maj.' || datum.p == 'b'"}],
   "mark":{"type":"point","filled":false,"strokeWidth":1,"size":20,"opacity":1,"clip":false},
   "encoding":{
    "color":{"field":"c","type":"nominal","scale":{"domain":["Maj.","Min."],"range":["#2020c8","#ee1a1a"]},"legend":{"title":null,"orient":"none","legendX":184,"legendY":-5}},
    "shape":{"field":"c","type":"nominal","scale":{"domain":["Maj.","Min."],"range":["circle","M-1,0L1,0M0,-1L0,1"]},"legend":{"title":null,"orient":"none","legendX":184,"legendY":-5}}
   }},
  {"data":{"values":[{"x":4.57,"y":5.25},{"x":6.87,"y":-0.38}]},"mark":{"type":"point","filled":false,"size":200,"strokeWidth":1.2,"color":"#93a9c6"}},
  {"data":{"values":[{"x":3.77,"y":7.98,"o":1},{"x":4.03,"y":7.34,"o":2},{"x":4.46,"y":6.96,"o":3},{"x":4.72,"y":6.39,"o":4}]},"mark":{"type":"line","color":"#6d8fb8","strokeWidth":1,"interpolate":"cardinal"},"encoding":{"order":{"field":"o","type":"quantitative"}}},
  {"data":{"values":[{"x":7.4,"y":-0.7,"o":1},{"x":7.66,"y":-1.2,"o":2},{"x":8.1,"y":-2.35,"o":3},{"x":8.56,"y":-2.8,"o":4},{"x":8.8,"y":-2.7,"o":5}]},"mark":{"type":"line","color":"#6d8fb8","strokeWidth":1,"interpolate":"cardinal"},"encoding":{"order":{"field":"o","type":"quantitative"}}},
  {"data":{"values":[{"x":4.74,"y":6.3}]},"mark":{"type":"point","shape":"triangle-down","filled":true,"size":16,"color":"#6d8fb8","angle":-20}},
  {"data":{"values":[{"x":3.6,"y":8.48,"t":"A"},{"x":9.2,"y":-2.6,"t":"B"}]},"mark":{"type":"text","fontSize":13,"font":"Liberation Sans","color":"#111"},"encoding":{"text":{"field":"t","type":"nominal"}}}
 ]
},
{
 "width":191,"height":131,
 "title":{"text":"(c)","orient":"bottom","offset":-2},
 "encoding":{
  "x":{"field":"x","type":"quantitative","scale":{"domain":[-0.4,12],"nice":false,"zero":false},"axis":{"values":[0,2,4,6,8,10,12],"title":"1ˢᵗ Feature","titlePadding":8}},
  "y":{"field":"y","type":"quantitative","scale":{"domain":[-5,10],"nice":false,"zero":false},"axis":{"values":[-5,0,5,10],"title":"2ⁿᵈ Feature"}}
 },
 "layer":[
  {"data":{"name":"pts"},"transform":[{"filter":"datum.c == 'Maj.' || datum.p == 'c'"}],
   "mark":{"type":"point","filled":false,"strokeWidth":1,"size":20,"opacity":1,"clip":false},
   "encoding":{
    "color":{"field":"c","type":"nominal","scale":{"domain":["Maj.","Min."],"range":["#2020c8","#3ee02a"]},"legend":{"title":null,"orient":"none","legendX":194,"legendY":-4}},
    "shape":{"field":"c","type":"nominal","scale":{"domain":["Maj.","Min."],"range":["circle","M-1,0L1,0M0,-1L0,1"]},"legend":{"title":null,"orient":"none","legendX":194,"legendY":-4}}
   }},
  {"data":{"values":[{"x":4.67,"y":5.36}]},"mark":{"type":"point","filled":false,"size":230,"strokeWidth":1.2,"color":"#93a9c6"}},
  {"data":{"values":[{"x":3.76,"y":7.9,"o":1},{"x":4.08,"y":7.34,"o":2},{"x":4.41,"y":7.15,"o":3},{"x":4.67,"y":6.47,"o":4}]},"mark":{"type":"line","color":"#6d8fb8","strokeWidth":1,"interpolate":"cardinal"},"encoding":{"order":{"field":"o","type":"quantitative"}}},
  {"data":{"values":[{"x":4.68,"y":6.38}]},"mark":{"type":"point","shape":"triangle-down","filled":true,"size":16,"color":"#6d8fb8","angle":-15}},
  {"data":{"values":[{"x":3.54,"y":8.48,"t":"A"}]},"mark":{"type":"text","fontSize":13,"font":"Liberation Sans","color":"#111"},"encoding":{"text":{"field":"t","type":"nominal"}}}
 ]
},
{
 "width":191,"height":131,
 "title":{"text":"(d)","orient":"bottom","offset":-2},
 "encoding":{
  "x":{"field":"x","type":"quantitative","scale":{"domain":[-0.4,12],"nice":false,"zero":false},"axis":{"values":[0,2,4,6,8,10,12],"title":"1ˢᵗ Feature","titlePadding":8}},
  "y":{"field":"y","type":"quantitative","scale":{"domain":[-5,10],"nice":false,"zero":false},"axis":{"values":[-5,0,5,10],"title":"2ⁿᵈ Feature"}}
 },
 "layer":[
  {"data":{"name":"pts"},"transform":[{"filter":"datum.c == 'Maj.' || datum.p == 'd'"}],
   "mark":{"type":"point","filled":false,"strokeWidth":1,"size":20,"opacity":1,"clip":false},
   "encoding":{
    "color":{"field":"c","type":"nominal","scale":{"domain":["Maj.","Min."],"range":["#2020c8","#b8199f"]},"legend":{"title":null,"orient":"none","legendX":186,"legendY":-4}},
    "shape":{"field":"c","type":"nominal","scale":{"domain":["Maj.","Min."],"range":["circle","M-1,0L1,0M0,-1L0,1"]},"legend":{"title":null,"orient":"none","legendX":186,"legendY":-4}}
   }},
  {"data":{"values":[{"x":6.88,"y":-0.15}]},"mark":{"type":"point","filled":false,"size":200,"strokeWidth":1.2,"color":"#d9b86c"}},
  {"data":{"values":[{"x":7.31,"y":-0.65,"o":1},{"x":7.59,"y":-1.6,"o":2},{"x":8.12,"y":-2.36,"o":3},{"x":8.56,"y":-2.55,"o":4}]},"mark":{"type":"line","color":"#6d8fb8","strokeWidth":1,"interpolate":"cardinal"},"encoding":{"order":{"field":"o","type":"quantitative"}}},
  {"data":{"values":[{"x":8.99,"y":-2.55,"t":"B"}]},"mark":{"type":"text","fontSize":13,"font":"Liberation Sans","color":"#111"},"encoding":{"text":{"field":"t","type":"nominal"}}}
 ]
}
]
}
